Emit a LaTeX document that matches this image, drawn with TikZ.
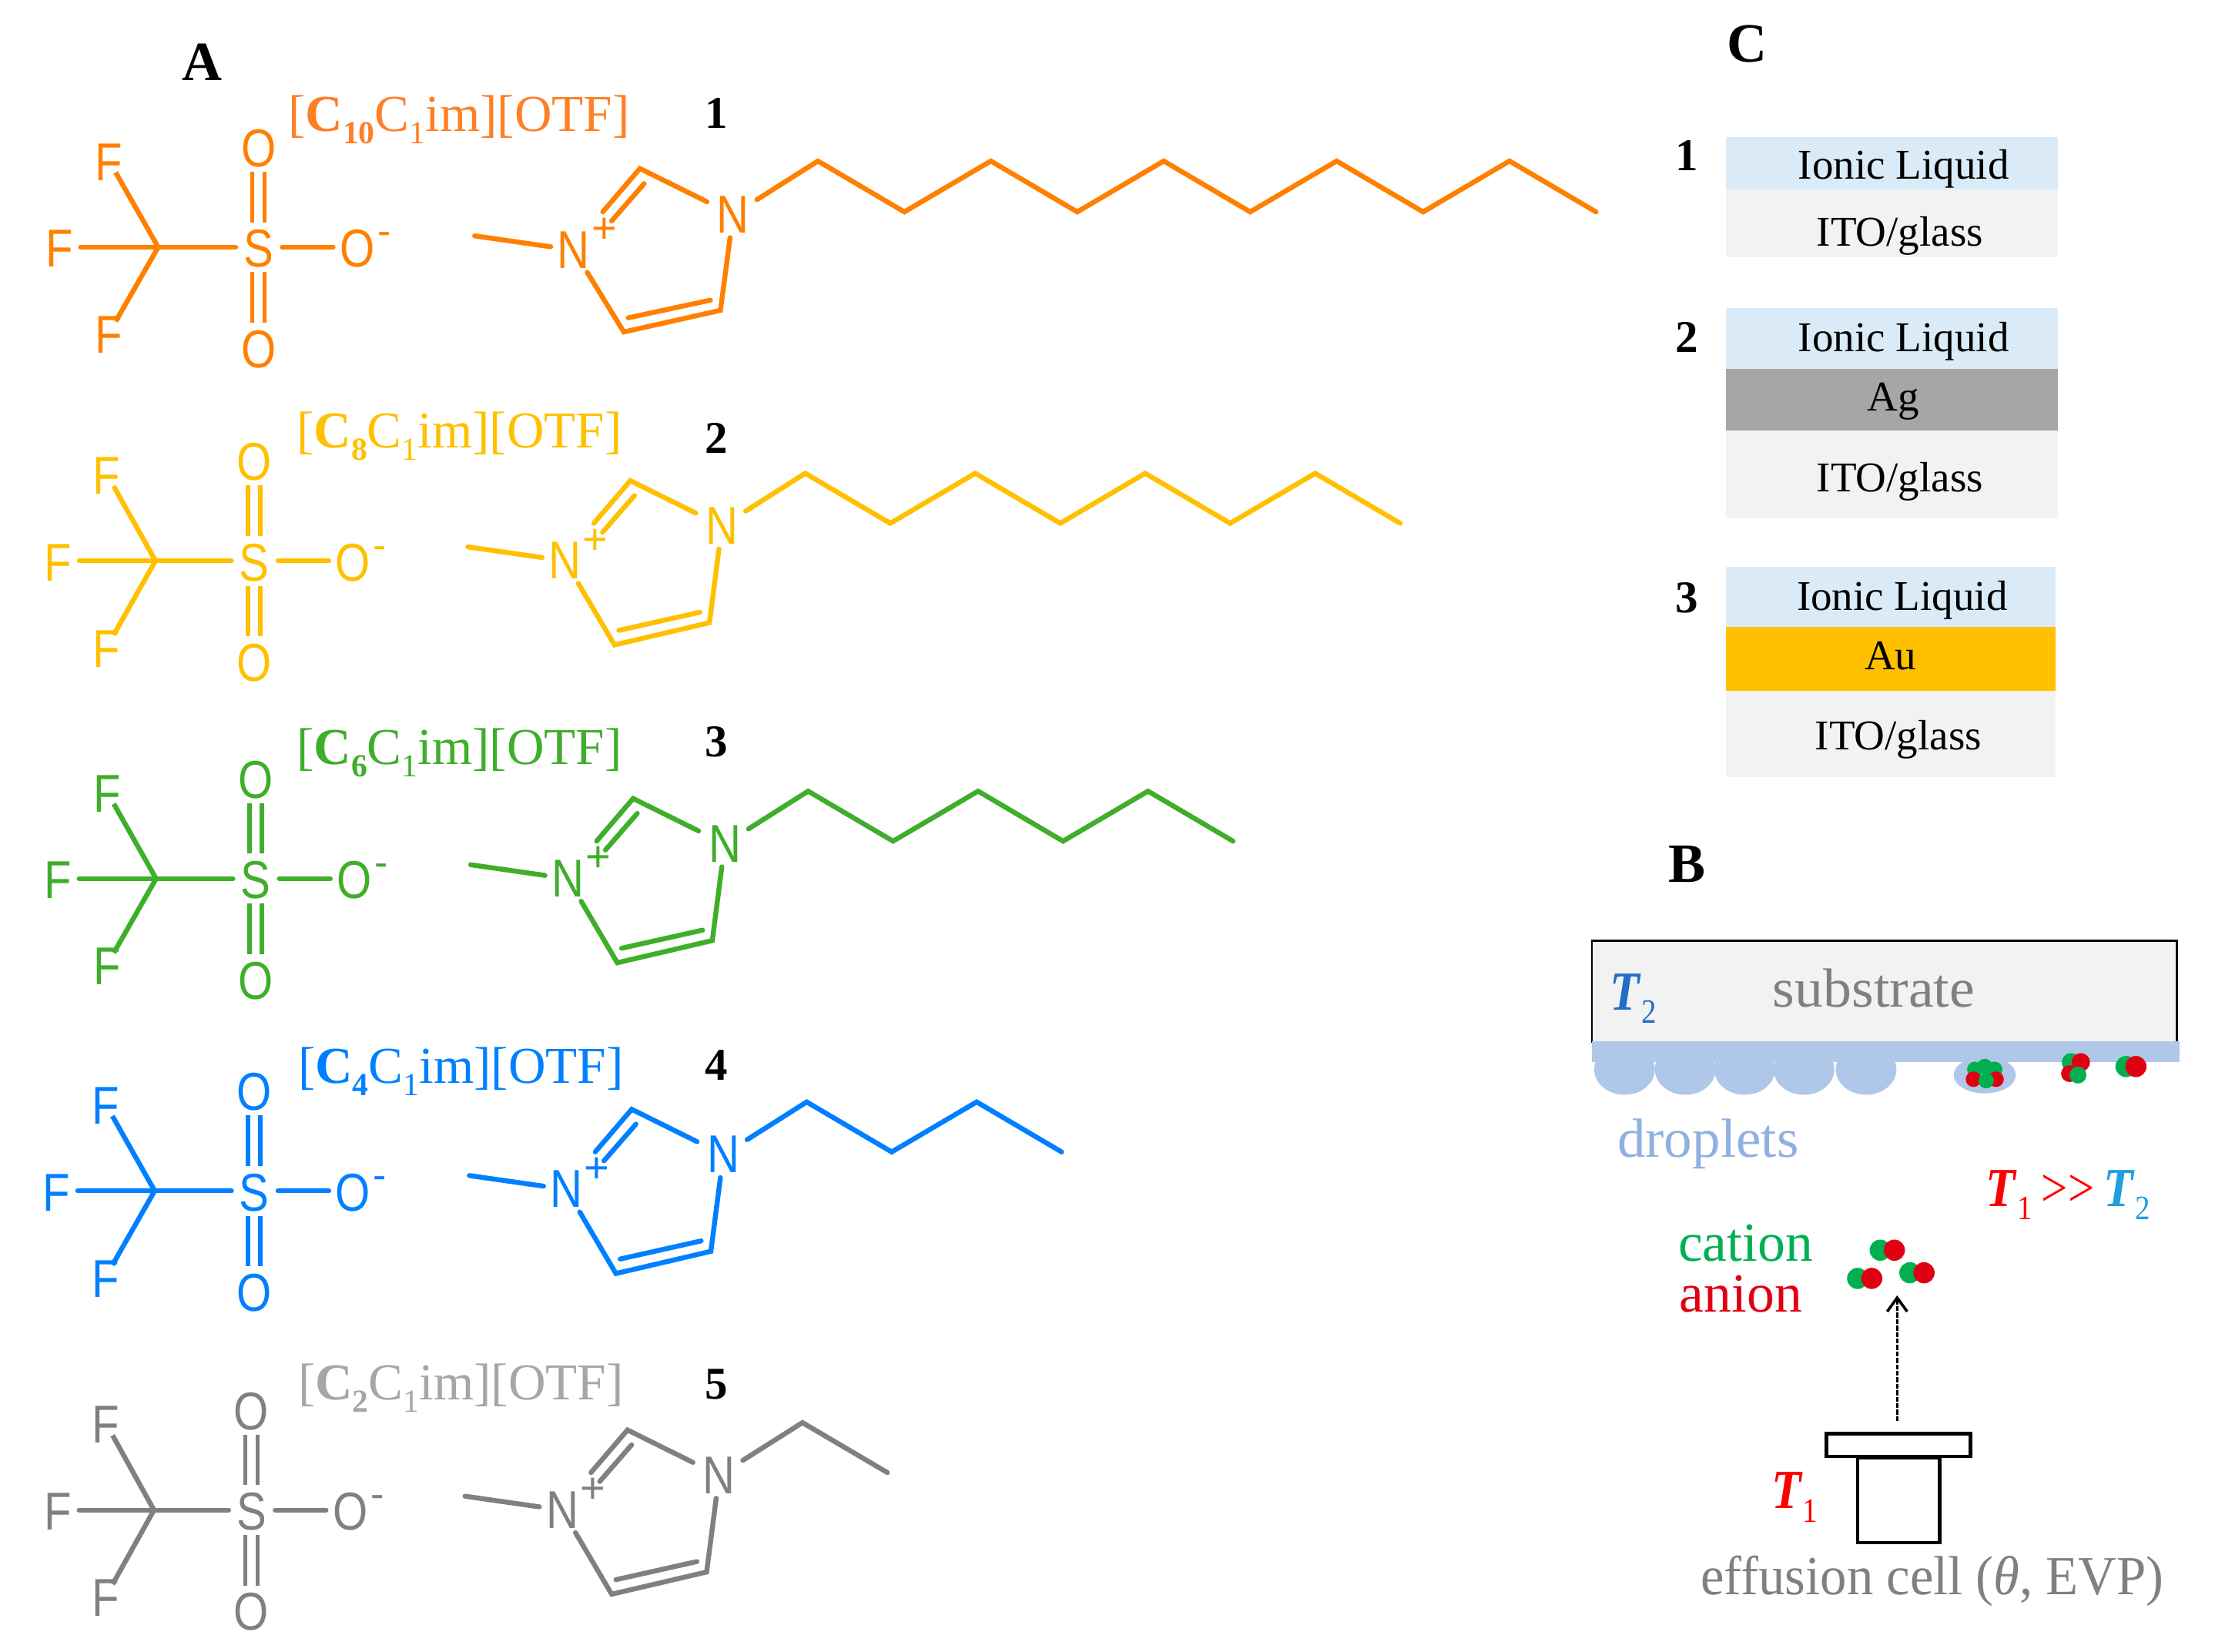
\documentclass[tikz,border=0pt]{standalone}
\usepackage{fontspec}
\setmainfont{Liberation Serif}
\setsansfont{Liberation Sans}
\usetikzlibrary{arrows.meta,calc}
\definecolor{mOne}{HTML}{FF8000}
\definecolor{lOne}{HTML}{FF7F27}
\definecolor{mTwo}{HTML}{FFC000}
\definecolor{mThree}{HTML}{3FAE2A}
\definecolor{mFour}{HTML}{0080FF}
\definecolor{mFive}{HTML}{808080}
\definecolor{lFive}{HTML}{A6A6A6}
\definecolor{ilblue}{HTML}{DAEBF7}
\definecolor{lgrey}{HTML}{F2F2F2}
\definecolor{agrey}{HTML}{A6A6A6}
\definecolor{gold}{HTML}{FFC000}
\definecolor{band}{HTML}{AFC8E9}
\definecolor{dropt}{HTML}{8FB0E0}
\definecolor{ionG}{HTML}{00B050}
\definecolor{ionR}{HTML}{E00012}
\definecolor{tOne}{HTML}{FF0000}
\definecolor{tTwoA}{HTML}{1F6FC5}
\definecolor{tTwoB}{HTML}{1F9FDF}
\newcommand{\sbs}[1]{\raisebox{-.24em}{\scalebox{.62}{#1}}}
\newcommand{\At}[1]{\makebox[0pt]{\raisebox{\dimexpr-.358em-0.3pt\relax}[0pt][0pt]{\scalebox{.84}[1]{#1}}}}
\newcommand{\AtN}[1]{\makebox[0pt]{\raisebox{\dimexpr-.358em+0.3pt\relax}[0pt][0pt]{\scalebox{.84}[1]{#1}}}}
\newcommand{\Tm}[1]{\scalebox{.88}[1]{\textbf{\textit{T}}\sbs{#1}}}
\tikzset{
  txt/.style={anchor=base west,inner sep=0pt,outer sep=0pt},
  big/.style={txt,font=\fontsize{17.9}{20}\selectfont},
  lay/.style={txt,font=\fontsize{13.76}{16}\selectfont,text=black},
  mlabel/.style={txt,font=\fontsize{16.8}{19}\selectfont},
  pnl/.style={anchor=center,inner sep=0pt,font=\bfseries\fontsize{18}{20}\selectfont},
  num/.style={anchor=center,inner sep=0pt,font=\bfseries\fontsize{14.75}{17}\selectfont},
  atom/.style={circle,inner sep=0pt,outer sep=0pt,minimum size=1pt,font=\sffamily\fontsize{17.3}{20}\selectfont},
  chg/.style={anchor=center,inner sep=0pt,font=\sffamily\fontsize{13}{15}\selectfont},
  bond/.style={line width=1.6pt,line cap=round,line join=miter},
  dbl/.style={line width=1.4pt,double,double distance=2.6pt,line cap=butt},
  ion/.style={circle,inner sep=0pt,minimum size=#1*0.4585pt},
  ion/.default=15
}
% \Anion{prefix}{x}{y}{colour}{scale of the CF3 side}
\newcommand{\Anion}[5]{%
 \begin{scope}[shift={(#2,#3)},text=#4]
  \node[atom] (#1S) at (0,0) {\At{S}};
  \node[atom] (#1Ot) at (0,-71) {\At{O}};
  \node[atom] (#1Ob) at (0,71) {\At{O}};
  \node[atom] (#1Om) at (70,0) {\At{O}};
  \node[chg] (#1m) at (89,-6) {-};
  \node[atom] (#1Fl) at (-141*#5,0) {\At{F}};
  \node[atom] (#1Ft) at (-106*#5,-61.5) {\At{F}};
  \node[atom] (#1Fb) at (-106*#5,61) {\At{F}};
  \coordinate (#1C) at (-71*#5,0);
 \end{scope}
 \draw[bond,#4,shorten <=6.4pt,shorten >=6.9pt] (#1Fl) -- (#1S);
 \draw[bond,#4,shorten <=7.2pt,shorten >=7.4pt] (#1S) -- (#1Om);
 \draw[bond,#4,shorten <=4pt,line cap=butt] (#1Ft) -- (#1C);
 \draw[bond,#4,shorten <=4pt,line cap=butt] (#1Fb) -- (#1C);
 \draw[dbl,#4,shorten <=7.6pt,shorten >=7.6pt] (#1S) -- (#1Ot);
 \draw[dbl,#4,shorten <=7.6pt,shorten >=7.6pt] (#1S) -- (#1Ob);
}
% \Cation{prefix}{x}{y}{colour}{scale}{number of chain atoms}
\newcommand{\Cation}[6]{%
 \pgfmathsetmacro{\ringy}{1+(1-#5)*2.6}%
 \begin{scope}[shift={(#2,#3)},scale=#5,text=#4]
  \node[atom] (#1Np) at (0,0) {\AtN{N}};
  \node[chg,font=\sffamily\fontsize{14}{15}\selectfont] (#1pl) at (22,-14) {+};
  \node[atom] (#1N) at (113,-25) {\AtN{N}};
  \coordinate (#1CH) at (47,-57.7);
  \coordinate (#1Ca) at (35.6,58*\ringy);
  \coordinate (#1Cb) at (104,42.7*\ringy);
  \coordinate (#1Me) at (-70,-10);
  \coordinate (#1oe) at (20.7,-27);
  \coordinate (#1ia) at (50,-47);
  \coordinate (#1ib) at (27,-20.6);
  \coordinate (#1ic) at (38.7,48*\ringy);
  \coordinate (#1id) at (97,35.5*\ringy);
  \gdef\pth{(#1N)}%
  \foreach \k in {1,...,#6}{%
    \pgfmathsetmacro{\cx}{173+61.2*(\k-1)}%
    \pgfmathsetmacro{\cy}{isodd(\k)?-63:-27}%
    \coordinate (#1c\k) at (\cx,\cy);
    \xdef\pth{\pth -- (#1c\k)}%
  }
 \end{scope}
 \draw[bond,#4,shorten >=7pt] (#1Me) -- (#1Np);
 \draw[bond,#4,shorten <=8pt,shorten >=7pt] (#1Np) -- (#1Ca) -- (#1Cb) -- (#1N);
 \draw[bond,#4,shorten >=9pt] (#1oe) -- (#1CH) -- (#1N);
 \draw[bond,#4] (#1ia) -- (#1ib);
 \draw[bond,#4] (#1ic) -- (#1id);
 \draw[bond,#4,shorten <=8.6pt] \pth;
}
\begin{document}
\begin{tikzpicture}[x=0.45854pt,y=-0.45854pt]
\useasboundingbox (0,0) rectangle (1568,1169);
% panel A
\node[pnl] (pa) at (143,44) {A};
\node[mlabel,text=lOne] (l1) at (204,93) {[\textbf{C\sbs{10}}C\sbs{1}im][OTF]};
\node[mlabel,text=mTwo] (l2) at (210,317) {[\textbf{C\sbs{8}}C\sbs{1}im][OTF]};
\node[mlabel,text=mThree] (l3) at (210,541) {[\textbf{C\sbs{6}}C\sbs{1}im][OTF]};
\node[mlabel,text=mFour] (l4) at (211,767) {[\textbf{C\sbs{4}}C\sbs{1}im][OTF]};
\node[mlabel,text=lFive] (l5) at (211,991) {[\textbf{C\sbs{2}}C\sbs{1}im][OTF]};
\node[num] (n1) at (507,80) {1};
\node[num] (n2) at (507,310) {2};
\node[num] (n3) at (507,525) {3};
\node[num] (n4) at (507,754) {4};
\node[num] (n5) at (507,980) {5};
\Anion{a}{183}{175}{mOne}{1}
\Cation{a}{406}{177}{mOne}{1}{10}
\Anion{b}{180}{397}{mTwo}{.985}
\Cation{b}{400}{397}{mTwo}{.983}{8}
\Anion{c}{181}{622}{mThree}{.993}
\Cation{c}{402}{622}{mThree}{.983}{6}
\Anion{d}{180}{843}{mFour}{.993}
\Cation{d}{401}{842}{mFour}{.983}{4}
\Anion{e}{178}{1069}{mFive}{.972}
\Cation{e}{398}{1069}{mFive}{.983}{2}
% panel C
\node[pnl] (pc) at (1237,31) {C};
\node[num] (r1) at (1194,110) {1};
\node[num] (r2) at (1194,239) {2};
\node[num] (r3) at (1194,423) {3};
\fill[ilblue] (1222,97) rectangle (1457,134);
\fill[lgrey] (1222,134) rectangle (1457,182);
\node[lay] (t11) at (1273,127) {Ionic Liquid};
\node[lay] (t12) at (1286,174) {ITO/glass};
\fill[ilblue] (1222,218) rectangle (1457,261);
\fill[agrey] (1222,261) rectangle (1457,305);
\fill[lgrey] (1222,305) rectangle (1457,367);
\node[lay] (t21) at (1273,249) {Ionic Liquid};
\node[lay] (t22) at (1322,291) {Ag};
\node[lay] (t23) at (1286,348) {ITO/glass};
\fill[ilblue] (1222,401) rectangle (1455,444);
\fill[gold] (1222,444) rectangle (1455,489);
\fill[lgrey] (1222,489) rectangle (1455,550);
\node[lay] (t31) at (1272,432) {Ionic Liquid};
\node[lay] (t32) at (1320,474) {Au};
\node[lay] (t33) at (1285,531) {ITO/glass};
% panel B
\node[pnl] (pb) at (1194,612) {B};
\foreach \cx in {1150,1193,1235,1277,1321}{\fill[band] (\cx,757) ellipse [x radius=21.5,y radius=18];}
\fill[band] (1405,761) ellipse [x radius=22,y radius=13];
\draw[fill=lgrey,line width=0.6pt] (1127,738) -- (1127,666) -- (1541,666) -- (1541,738);
\fill[band] (1127,737) rectangle (1543,752);
\node[big,text=mFive] (sub) at (1255,713) {\scalebox{1.03}[1]{substrate}};
\node[big,text=tTwoA] (t2a) at (1140,715) {\Tm{2}};
\node[big,text=dropt] (dro) at (1145,819) {\scalebox{1.02}[1]{droplets}};
\node[big,text=tOne] (t1b) at (1406,854) {\Tm{1}\hspace{3pt}\scalebox{.85}[1]{>{}>}\hspace{3pt}\textcolor{tTwoB}{\Tm{2}}};
\node[big,text=ionG] (cat) at (1188,893) {cation};
\node[big,text=ionR] (ani) at (1189,929) {anion};
\node[big,text=tOne] (t1a) at (1254,1068) {\Tm{1}};
\node[big,text=mFive] (eff) at (1204,1129) {\scalebox{.96}[1]{effusion cell (\textit{θ}, EVP)}};
% ions in the droplet and on the surface
\foreach \px/\py in {1398/757,1405/755,1412/757}{\node[ion=11,fill=ionG] at (\px,\py) {};}
\foreach \px/\py in {1397/764,1413/764}{\node[ion=11,fill=ionR] at (\px,\py) {};}
\node[ion=11,fill=ionG] (dg) at (1406,765) {};
\node[ion=13,fill=ionG] (sg1) at (1466,752) {};
\node[ion=13,fill=ionR] (sr1) at (1473,752) {};
\node[ion=12,fill=ionR] (sr2) at (1465,760) {};
\node[ion=12,fill=ionG] (sg2) at (1471,761) {};
\node[ion=15,fill=ionG] (pg) at (1505,755) {};
\node[ion=15,fill=ionR] (pr) at (1512,755) {};
% gas phase pairs
\node[ion,fill=ionG] (g1) at (1331,885) {};
\node[ion,fill=ionR] (r1a) at (1341,885) {};
\node[ion,fill=ionG] (g2) at (1315,905) {};
\node[ion,fill=ionR] (r2a) at (1325,905) {};
\node[ion,fill=ionG] (g3) at (1352,901) {};
\node[ion,fill=ionR] (r3a) at (1362,901) {};
% effusion cell
\draw[line width=1.15pt,fill=white] (1293,1015) rectangle (1395,1031);
\draw[line width=1.15pt] (1315,1032) rectangle (1373,1092);
\coordinate (as) at (1343,1006);
\coordinate (ae) at (1343,917);
\draw[line width=0.9pt,dash pattern=on 1.6pt off 0.5pt,-{Straight Barb[length=4.5pt,width=6.5pt,line width=0.9pt]}] (as) -- (ae);
\end{tikzpicture}
\end{document}
